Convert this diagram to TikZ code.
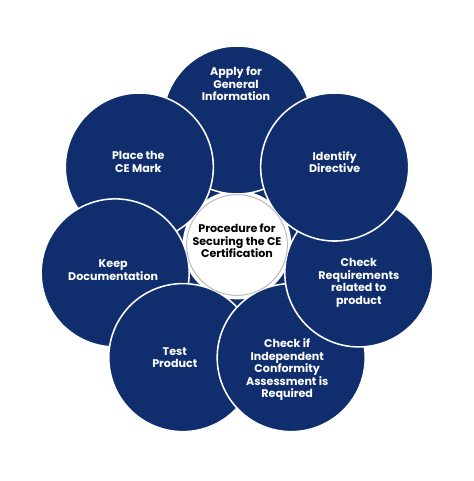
\documentclass[tikz,border=0pt]{standalone}
\usepackage{fontspec}
\setmainfont{Poppins}
\usepackage{tikz}
\usetikzlibrary{positioning}
\definecolor{cenavy}{RGB}{16,46,110}
\definecolor{hubgray}{RGB}{185,185,190}
\tikzset{
  stepcirc/.style={circle, draw=white, line width=1.1pt, fill=cenavy,
                   minimum size=3.7cm, inner sep=0pt},
  steptext/.style={text=white, align=center, inner sep=0pt,
                   font=\bfseries\fontsize{7.9}{8.9}\selectfont},
  backdisc/.style={circle, fill=cenavy, minimum size=3.05cm, inner sep=0pt},
  gapdisc/.style={circle, fill=white, minimum size=2.72cm, inner sep=0pt},
  hub/.style={circle, draw=hubgray, line width=0.7pt, fill=white,
              minimum size=2.52cm, inner sep=0pt}
}
\begin{document}
\begin{tikzpicture}[x=0.025cm, y=0.025cm]
  \useasboundingbox (0,0) rectangle (474,481);
  \coordinate (c) at (237,236);
  \node[backdisc] (back) at (c) {};
  \node[gapdisc] (gap) at (c) {};
  % circles, from the bottom one up
  \node[stepcirc] (apply)    at ([shift={(90:125)}]c) {};
  \node[stepcirc] (place)    at ([shift={(141.4:125)}]c) {};
  \node[stepcirc] (keep)     at ([shift={(192.9:125)}]c) {};
  \node[stepcirc] (test)     at ([shift={(244.3:125)}]c) {};
  \node[stepcirc] (indep)    at ([shift={(295.7:125)}]c) {};
  \node[stepcirc] (require)  at ([shift={(347.1:125)}]c) {};
  \node[stepcirc] (identify) at ([shift={(38.6:125)}]c) {};
  % labels
  \node[steptext] (applyt)    at ([shift={(-1,36)}]apply.center) {Apply for\\General\\Information};
  \node[steptext] (placet)    at ([shift={(-1,5)}]place.center) {Place the\\CE Mark};
  \node[steptext] (keept)     at ([shift={(-2,3)}]keep.center) {Keep\\Documentation};
  \node[steptext] (testt)     at ([shift={(-8,0)}]test.center) {Test\\Product};
  \node[steptext] (indept)    at ([shift={(-4,-12)}]indep.center) {Check if\\Independent\\Conformity\\Assessment is\\Required};
  \node[steptext] (requiret)  at ([shift={(0,-10)}]require.center) {Check\\Requirements\\related to\\product};
  \node[steptext] (identifyt) at ([shift={(0,5)}]identify.center) {Identify\\Directive};
  % centre
  \node[hub] (hubc) at (c) {};
  \node[steptext, text=black] (hubt) at ([shift={(0,4)}]hubc.center) {Procedure for\\Securing the CE\\Certification};
\end{tikzpicture}
\end{document}
